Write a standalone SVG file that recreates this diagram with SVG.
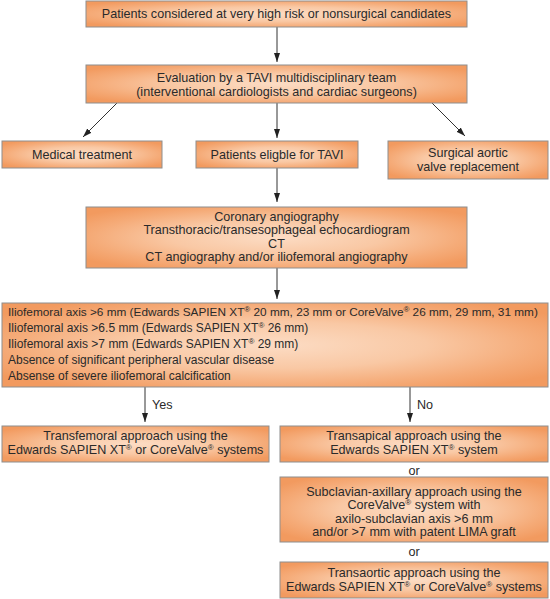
<svg xmlns="http://www.w3.org/2000/svg" width="550" height="599" viewBox="0 0 550 599">
<defs>
<radialGradient id="g" cx="0.5" cy="0.5" r="0.62">
<stop offset="0" stop-color="#fcdcc4"/>
<stop offset="0.45" stop-color="#f9c8a4"/>
<stop offset="0.78" stop-color="#f5ab78"/>
<stop offset="1" stop-color="#f29a5f"/>
</radialGradient>
<marker id="ah" markerUnits="userSpaceOnUse" markerWidth="10" markerHeight="6" refX="9" refY="3" orient="auto">
<path d="M0,0 L9,3 L0,6 z" fill="#222"/>
</marker>
<style>
.b{fill:url(#g);stroke:#8e8e8e;stroke-width:1}
.t{font-family:"Liberation Sans",Arial,sans-serif;font-size:12.6px;fill:#2a2a2a;text-anchor:middle}
.l{font-family:"Liberation Sans",Arial,sans-serif;font-size:12px;fill:#2a2a2a;text-anchor:start}
.r{font-size:8px;baseline-shift:super}
.c{stroke:#333;stroke-width:1;fill:none;marker-end:url(#ah)}
</style>
</defs>
<rect width="550" height="599" fill="#fff"/>
<g id="connectors">
<line class="c" x1="277" y1="27" x2="277" y2="62"/>
<line class="c" x1="117" y1="103" x2="83" y2="137"/>
<line class="c" x1="277" y1="103" x2="277" y2="138"/>
<line class="c" x1="432" y1="103" x2="465" y2="136"/>
<line class="c" x1="277" y1="168" x2="277" y2="202"/>
<line class="c" x1="277" y1="268" x2="277" y2="299"/>
<line class="c" x1="145" y1="387" x2="145" y2="422"/>
<line class="c" x1="410" y1="387" x2="410" y2="422"/>
<text class="t" x="152" y="409" style="text-anchor:start">Yes</text>
<text class="t" x="417" y="409" style="text-anchor:start">No</text>
<text class="t" x="414" y="475">or</text>
<text class="t" x="414" y="555.5">or</text>
</g>
<g id="n1">
<rect class="b" x="86" y="1" width="381" height="26"/>
<text class="t" x="276.5" y="18">Patients considered at very high risk or nonsurgical candidates</text>
</g>
<g id="n2">
<rect class="b" x="86" y="65" width="381" height="38"/>
<text class="t" x="276.5" y="82">Evaluation by a TAVI multidisciplinary team</text>
<text class="t" x="276.5" y="96">(interventional cardiologists and cardiac surgeons)</text>
</g>
<g id="n3">
<rect class="b" x="2" y="141" width="160" height="27"/>
<text class="t" x="82" y="158.5">Medical treatment</text>
</g>
<g id="n4">
<rect class="b" x="196" y="141" width="162" height="27"/>
<text class="t" x="277" y="158.5">Patients eligble for TAVI</text>
</g>
<g id="n5">
<rect class="b" x="388" y="141" width="160" height="38"/>
<text class="t" x="468" y="157">Surgical aortic</text>
<text class="t" x="468" y="171">valve replacement</text>
</g>
<g id="n6">
<rect class="b" x="86" y="207" width="381" height="61"/>
<text class="t" x="276.5" y="220.5">Coronary angiography</text>
<text class="t" x="276.5" y="234">Transthoracic/transesophageal echocardiogram</text>
<text class="t" x="276.5" y="247.5">CT</text>
<text class="t" x="276.5" y="261">CT angiography and/or iliofemoral angiography</text>
</g>
<g id="n7">
<rect class="b" x="2" y="303" width="546" height="84"/>
<text class="l" x="8" y="316" style="font-size:11.8px">Iliofemoral axis &gt;6 mm (Edwards SAPIEN XT<tspan class="r">®</tspan> 20 mm, 23 mm or CoreValve<tspan class="r">®</tspan> 26 mm, 29 mm, 31 mm)</text>
<text class="l" x="8" y="332">Iliofemoral axis &gt;6.5 mm (Edwards SAPIEN XT<tspan class="r">®</tspan> 26 mm)</text>
<text class="l" x="8" y="348">Iliofemoral axis &gt;7 mm (Edwards SAPIEN XT<tspan class="r">®</tspan> 29 mm)</text>
<text class="l" x="8" y="364">Absence of significant peripheral vascular disease</text>
<text class="l" x="8" y="380">Absense of severe iliofemoral calcification</text>
</g>
<g id="n8">
<rect class="b" x="2" y="426" width="267" height="36"/>
<text class="t" x="135.5" y="440">Transfemoral approach using the</text>
<text class="t" x="135.5" y="454">Edwards SAPIEN XT<tspan class="r">®</tspan> or CoreValve<tspan class="r">®</tspan> systems</text>
</g>
<g id="n9">
<rect class="b" x="280" y="426" width="268" height="36"/>
<text class="t" x="414" y="440">Transapical approach using the</text>
<text class="t" x="414" y="454">Edwards SAPIEN XT<tspan class="r">®</tspan> system</text>
</g>
<g id="n10">
<rect class="b" x="280" y="477" width="268" height="65"/>
<text class="t" x="414" y="495.5">Subclavian-axillary approach using the</text>
<text class="t" x="414" y="509">CoreValve<tspan class="r">®</tspan> system with</text>
<text class="t" x="414" y="522.5">axilo-subclavian axis &gt;6 mm</text>
<text class="t" x="414" y="536">and/or &gt;7 mm with patent LIMA graft</text>
</g>
<g id="n11">
<rect class="b" x="280" y="562" width="268" height="36"/>
<text class="t" x="414" y="577">Transaortic approach using the</text>
<text class="t" x="414" y="591">Edwards SAPIEN XT<tspan class="r">®</tspan> or CoreValve<tspan class="r">®</tspan> systems</text>
</g>
</svg>
